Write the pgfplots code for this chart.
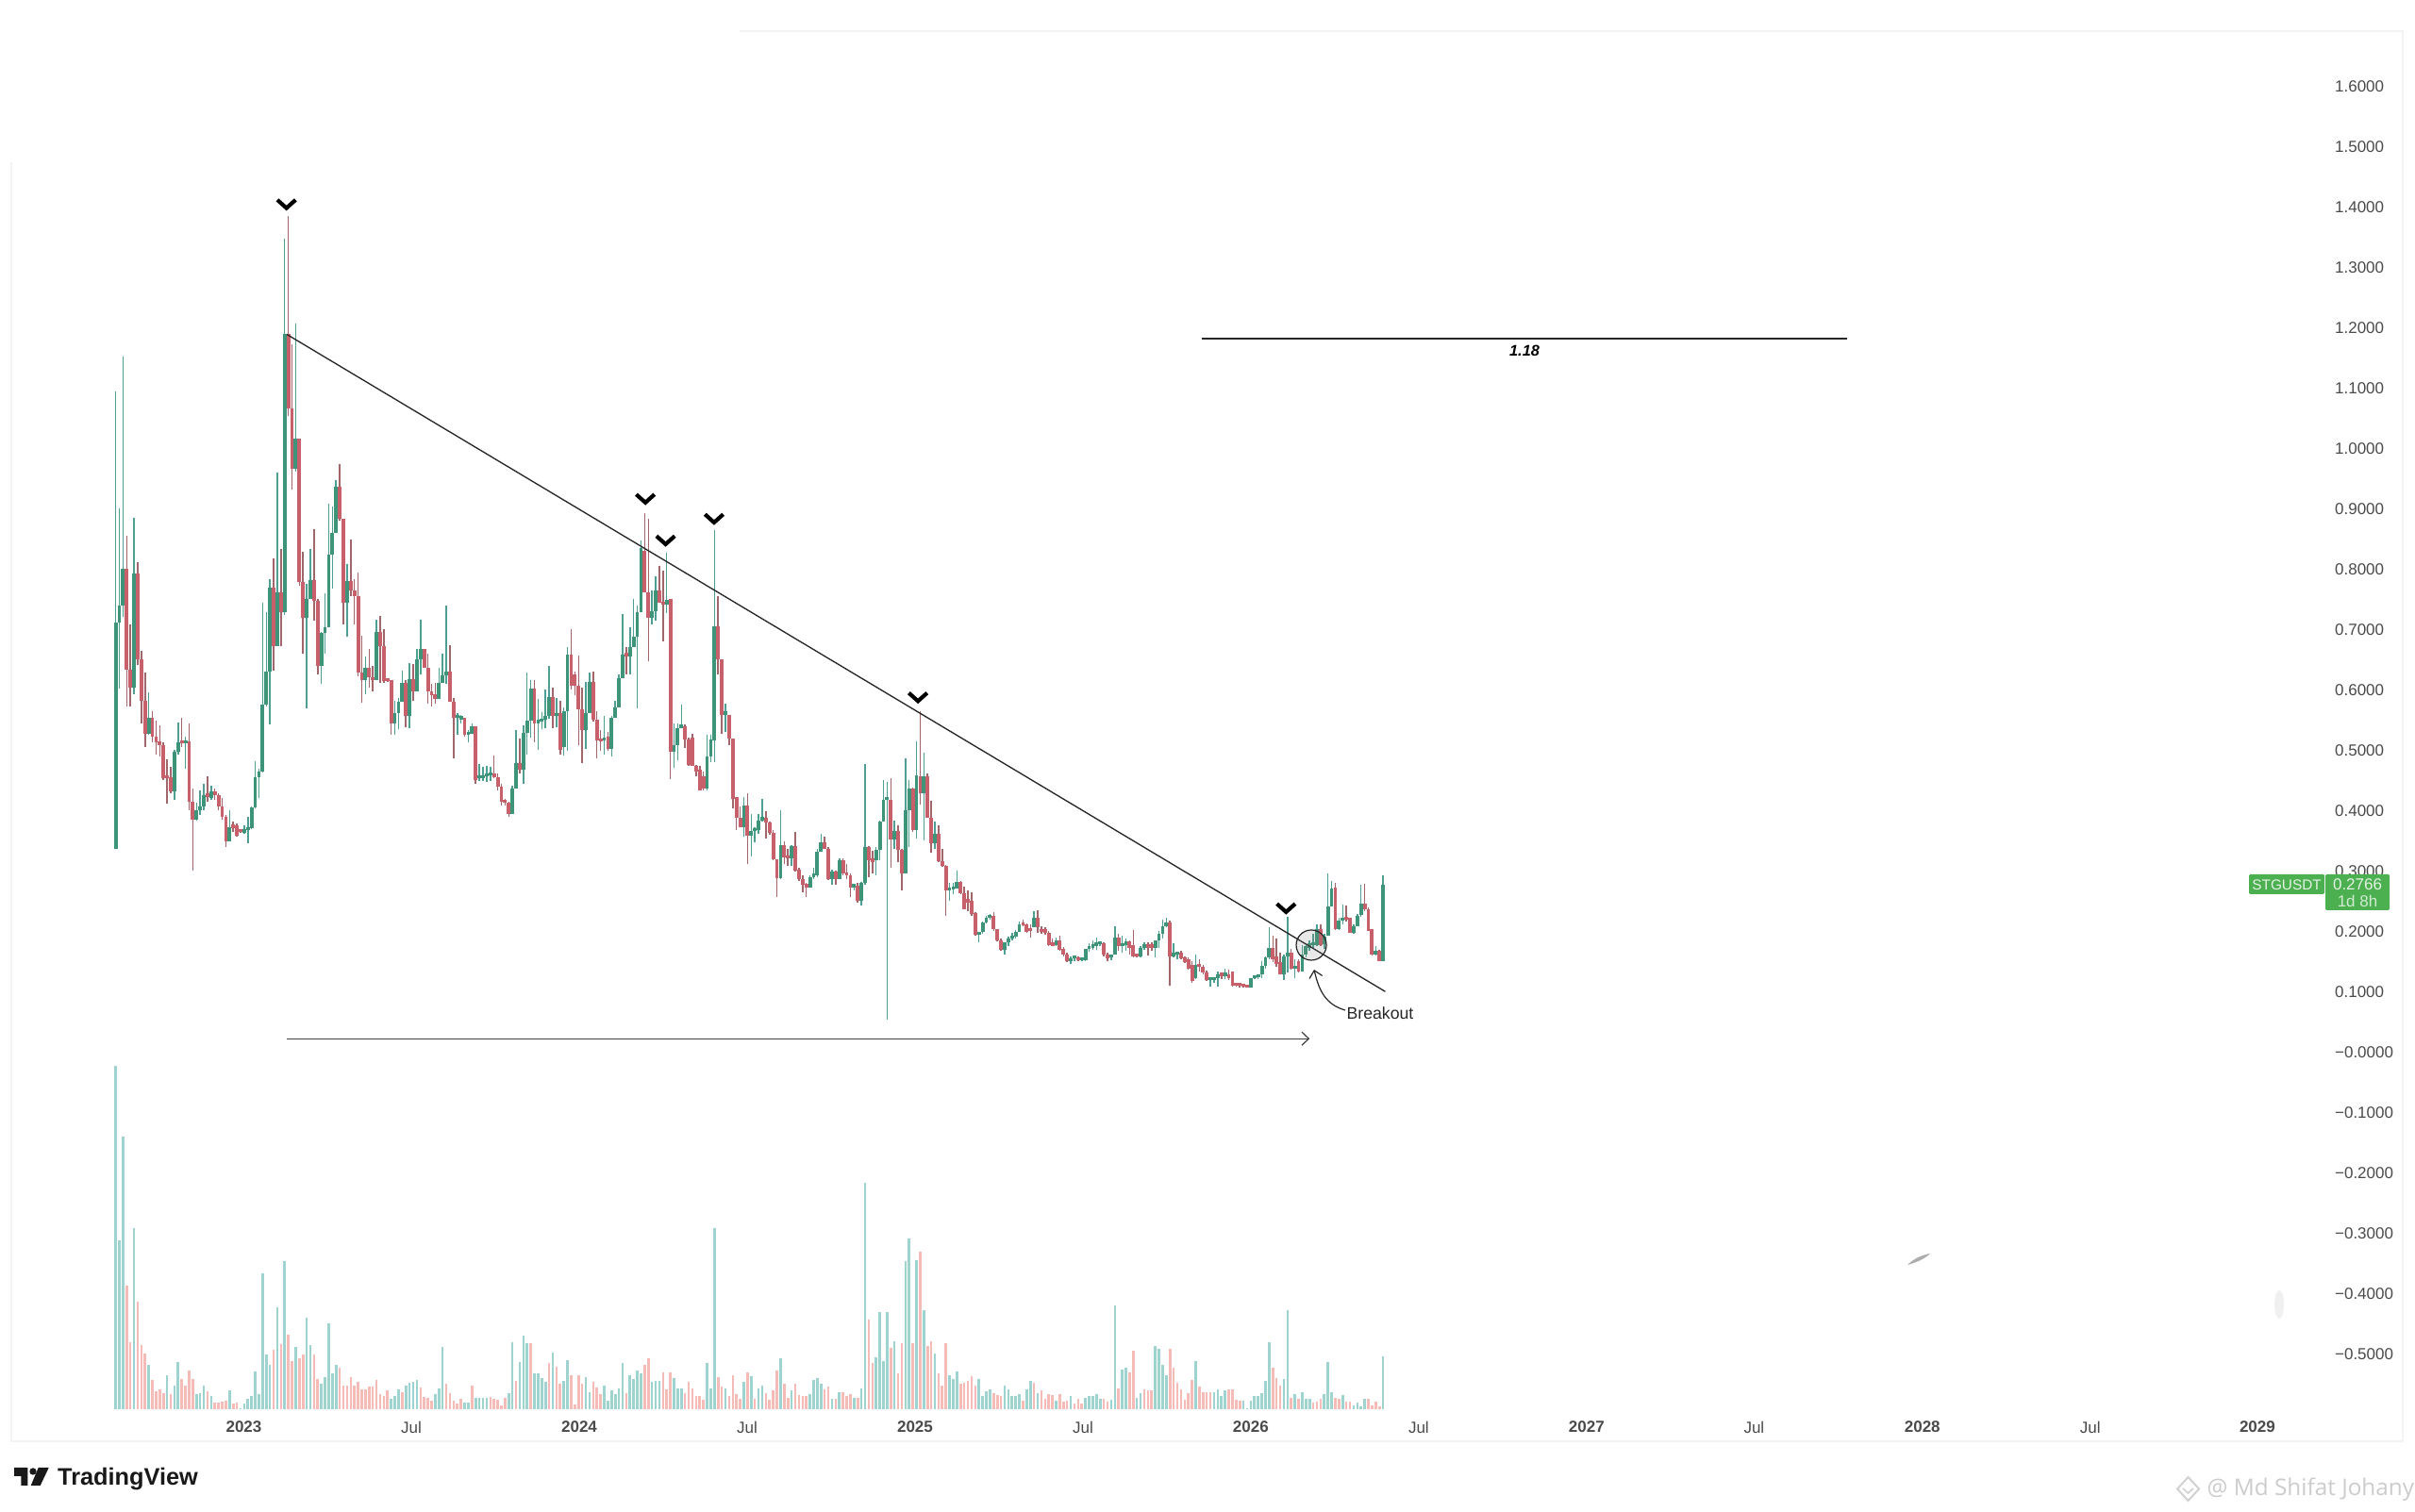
\documentclass[border=0pt]{standalone}
\usepackage{fontspec}
\setmainfont{Liberation Sans}
\newfontfamily\wmfont{Open Sans}
\usepackage{pgfplots}
\usepackage{pgfplotstable}
\pgfplotsset{compat=1.18}
\usetikzlibrary{arrows.meta}
\definecolor{upbody}{HTML}{3D9478}
\definecolor{upwick}{HTML}{4F9E93}
\definecolor{dnbody}{HTML}{C8606B}
\definecolor{dnwick}{HTML}{A0666A}
\definecolor{upvol}{HTML}{9FD3CF}
\definecolor{dnvol}{HTML}{F4BBB7}
\definecolor{lab}{HTML}{4A4A4A}
\definecolor{panel}{HTML}{F3F3F3}
\definecolor{tvgreen}{HTML}{4CAF50}
\pgfdeclareplotmark{chev}{%
  \pgfsetlinewidth{1.25pt}\pgfsetmiterjoin
  \pgfpathmoveto{\pgfpoint{-2.9pt}{1.5pt}}
  \pgfpathlineto{\pgfpoint{0pt}{-1.1pt}}
  \pgfpathlineto{\pgfpoint{2.9pt}{1.5pt}}
  \pgfusepathqstroke}
\pgfplotstableread{
o h l c v
.336 1.094 .336 .711 100
.711 .899 .601 .739 49.2
.739 1.152 .72 .800 79.4
.800 .855 .572 .633 -36
.633 .707 .572 .603 -19.6
.603 .884 .592 .791 52.7
.791 .811 .640 .649 -31.3
.649 .663 .544 .580 -18.7
.580 .627 .504 .526 -16.2
.526 .595 .524 .553 12.8
.553 .564 .512 .521 -8.6
.521 .548 .492 .512 -5.2
.512 .540 .488 .508 -5.7
.508 .512 .450 .452 -4.6
.454 .484 .410 .452 9.8
.454 .472 .428 .430 -4.3
.430 .500 .416 .497 7
.497 .545 .492 .512 13.7
.512 .552 .504 .510 -8.9
.510 .521 .468 .513 -6.8
.513 .544 .400 .414 -11.2
.414 .436 .300 .384 -8.9
.384 .412 .382 .400 4.3
.400 .432 .392 .405 4.8
.405 .444 .400 .424 7
.424 .456 .414 .422 -5.2
.420 .440 .416 .430 3.8
.430 .436 .416 .424 -2
.424 .428 .400 .406 -1.8
.406 .420 .384 .388 -2.2
.388 .392 .338 .348 -2.5
.348 .400 .348 .372 5.5
.376 .380 .364 .370 -1.6
.374 .378 .356 .358 -1.8
.366 .368 .362 .364 .2
.362 .374 .360 .368 1.6
.366 .388 .344 .368 2.9
.370 .406 .368 .404 3.8
.404 .481 .402 .454 11
.454 .468 .420 .464 4.3
.464 .743 .462 .574 39.6
.574 .727 .572 .629 15.8
.629 .783 .542 .769 12.8
.769 .817 .631 .671 -17.4
.671 .959 .671 .761 29.8
.761 .832 .671 .727 -19
.727 1.346 .723 1.188 43
1.188 1.384 1.053 1.066 -21.7
1.066 1.172 .931 .965 -13.9
.965 1.206 .960 1.016 18
1.016 1.016 .771 .777 -14.8
.777 .827 .659 .718 -15.8
.718 .775 .568 .750 26.7
.750 .833 .749 .781 18.7
.781 .865 .713 .747 -16
.747 .749 .625 .638 -8.9
.638 .695 .609 .694 7.3
.694 .759 .659 .702 9.3
.702 .907 .702 .823 25
.823 .903 .767 .859 10.4
.859 .947 .859 .935 13
.935 .973 .880 .883 -12
.883 .883 .707 .743 -6.9
.743 .807 .687 .779 -6.9
.779 .848 .755 .763 -9.3
.763 .783 .707 .755 -6.9
.755 .793 .622 .627 -8
.627 .689 .577 .615 -5.9
.615 .655 .591 .635 -5.9
.635 .667 .603 .620 -6.6
.620 .639 .596 .615 -6.6
.615 .715 .615 .695 -8.4
.695 .721 .611 .671 -4.3
.671 .699 .611 .614 -3.8
.615 .617 .612 .613 -5.5
.615 .615 .524 .544 2.9
.544 .580 .524 .561 3.8
.561 .585 .534 .579 5.9
.579 .631 .579 .611 -4.9
.611 .615 .537 .556 7
.556 .643 .536 .617 7.7
.617 .641 .580 .596 8
.596 .667 .596 .649 8.6
.649 .715 .624 .667 -6.4
.667 .667 .635 .635 -3.6
.635 .659 .576 .596 -3.4
.596 .609 .572 .590 -2.5
.591 .611 .576 .584 4.3
.584 .635 .584 .611 6.1
.611 .659 .611 .623 18
.623 .739 .609 .630 -7.5
.630 .673 .579 .579 -4.8
.579 .585 .486 .552 -2.5
.552 .561 .524 .554 -1.6
.550 .557 .544 .552 -3.1
.552 .552 .521 .524 2
.524 .532 .512 .526 2
.526 .544 .526 .539 -7
.539 .539 .444 .450 3.4
.452 .476 .448 .454 3.4
.453 .472 .448 .455 3.4
.455 .473 .446 .457 3.2
.457 .472 .448 .461 -3.7
.461 .490 .452 .454 -2.9
.454 .460 .432 .438 -2.7
.438 .444 .408 .414 -1.1
.414 .418 .408 .412 -3.4
.412 .414 .388 .394 4.8
.394 .440 .394 .436 19.6
.436 .532 .436 .478 -8.2
.478 .519 .460 .466 13.7
.466 .540 .444 .528 21.4
.528 .627 .492 .548 19.2
.548 .615 .520 .601 -19.2
.601 .615 .512 .544 10.3
.544 .584 .500 .546 10.3
.546 .562 .534 .549 9.2
.549 .600 .536 .555 8
.555 .639 .551 .587 -13.5
.587 .603 .536 .555 16.5
.555 .585 .537 .560 -12.3
.560 .580 .492 .500 -7.3
.504 .570 .490 .564 8.2
.563 .670 .498 .658 14.4
.658 .699 .600 .606 -9.8
.624 .630 .590 .606 -1.3
.606 .656 .507 .566 -10
.566 .603 .478 .532 -7.3
.532 .612 .501 .560 9.3
.560 .627 .560 .612 4.9
.612 .630 .547 .550 -8
.550 .563 .486 .515 -6.4
.516 .532 .498 .514 -4.3
.515 .556 .492 .518 7
.521 .529 .498 .501 2.5
.501 .556 .489 .553 5.5
.553 .580 .553 .570 4.3
.570 .625 .570 .618 6.1
.618 .724 .618 .658 13.5
.658 .670 .624 .655 -4.6
.655 .703 .624 .670 9.8
.670 .750 .670 .687 8.9
.687 .739 .569 .727 11.2
.727 .846 .727 .834 10.3
.830 .892 .760 .760 -13
.760 .883 .646 .718 -14.8
.718 .763 .707 .730 8
.730 .787 .713 .763 8.2
.763 .804 .744 .744 8.2
.744 .797 .680 .740 -10.7
.740 .826 .726 .748 -5.7
.750 .750 .451 .496 -10.7
.496 .543 .470 .507 9.2
.507 .543 .483 .536 6.1
.536 .575 .535 .538 6.1
.538 .541 .502 .517 -4.6
.517 .520 .473 .475 -8
.520 .526 .473 .473 -6.1
.473 .475 .455 .464 -3.8
.467 .473 .433 .433 -3.8
.456 .464 .433 .436 -2.7
.436 .524 .433 .489 13.5
.489 .524 .479 .516 6.1
.515 .864 .479 .705 52.8
.705 .755 .624 .650 -9.3
.650 .650 .526 .558 -6.6
.558 .576 .529 .560 6.1
.558 .558 .507 .518 -3.8
.518 .518 .403 .418 -9.8
.421 .422 .367 .387 -4.3
.387 .406 .372 .372 -2.9
.372 .421 .356 .407 8
.407 .428 .310 .358 -10.7
.358 .393 .323 .365 9.5
.365 .372 .347 .369 -3.1
.366 .393 .361 .383 6.1
.383 .418 .381 .387 7
.387 .398 .353 .379 -4.8
.379 .381 .359 .362 -2.7
.362 .366 .316 .318 -5.5
.318 .318 .255 .287 -11.2
.287 .399 .286 .342 14.7
.342 .348 .310 .321 -7.5
.321 .335 .307 .319 -3.4
.320 .341 .307 .340 5.5
.340 .364 .298 .299 -7.3
.301 .304 .283 .286 -4
.286 .291 .264 .276 -3.8
.276 .279 .255 .272 -3.8
.272 .291 .272 .289 4.3
.289 .304 .285 .292 8.4
.292 .335 .289 .330 9.2
.330 .361 .330 .346 7.5
.346 .356 .335 .336 -5.7
.336 .338 .284 .286 -6.6
.286 .301 .276 .298 2.9
.298 .299 .276 .286 -3.1
.286 .319 .286 .316 4.9
.316 .319 .292 .295 -4.9
.295 .310 .286 .292 -3.8
.292 .295 .255 .272 -4.3
.272 .278 .267 .274 3.4
.274 .279 .246 .249 -3.4
.249 .281 .241 .279 6.1
.279 .476 .276 .338 65.9
.338 .340 .289 .316 -26
.316 .332 .295 .314 -13.5
.316 .338 .292 .334 15
.334 .383 .316 .381 28.3
.381 .449 .381 .416 13.9
.416 .446 .053 .418 28.4
.417 .453 .304 .351 -17.9
.351 .383 .335 .365 19.9
.365 .375 .313 .334 -10.3
.334 .335 .266 .295 -19.2
.295 .486 .295 .399 43
.399 .449 .338 .435 49.8
.435 .437 .363 .367 -19.2
.367 .513 .352 .458 43.4
.456 .563 .409 .427 -46
.427 .495 .350 .456 28.8
.456 .461 .387 .387 -18.5
.387 .415 .329 .344 -19.9
.344 .381 .335 .361 16.2
.361 .375 .313 .315 -10.4
.315 .335 .305 .307 -7
.307 .309 .225 .266 -19.2
.266 .279 .249 .268 10
.268 .279 .261 .270 8.9
.270 .299 .270 .281 11
.281 .282 .261 .262 -7.3
.262 .273 .235 .236 -7.7
.250 .266 .233 .247 -8.2
.249 .264 .224 .227 -9.5
.229 .230 .192 .193 -7
.193 .198 .180 .198 8.9
.198 .215 .194 .213 3.8
.213 .224 .212 .221 5.2
.221 .227 .218 .223 5.7
.224 .230 .200 .202 -4.8
.202 .202 .182 .184 -4
.184 .187 .166 .168 -3.8
.168 .180 .160 .180 7
.180 .190 .175 .187 5.9
.187 .196 .184 .192 3.8
.190 .201 .187 .198 3.8
.198 .215 .198 .210 4.3
.211 .218 .207 .209 -2.5
.210 .212 .196 .198 5.9
.204 .210 .188 .199 8.2
.206 .233 .205 .222 -7.7
.222 .234 .196 .205 4.6
.200 .208 .195 .198 -5.5
.199 .205 .193 .197 -3.1
.197 .200 .175 .176 -4.3
.179 .187 .174 .175 -4
.176 .188 .174 .184 2.5
.184 .191 .166 .168 -4.3
.170 .173 .158 .161 -2.2
.161 .163 .148 .149 -2.5
.149 .158 .144 .154 3.8
.154 .158 .150 .156 -1.6
.155 .158 .149 .151 -2.9
.151 .155 .149 .153 -1.6
.151 .170 .150 .169 3.4
.169 .179 .165 .172 3.8
.172 .184 .168 .175 3.8
.175 .188 .168 .177 4.3
.177 .182 .174 .179 2.9
.179 .180 .158 .161 -2.9
.161 .163 .150 .154 -2.2
.155 .160 .151 .158 2.7
.161 .208 .161 .188 30.1
.188 .195 .166 .174 -6.1
.174 .192 .163 .176 11.6
.176 .187 .166 .182 12.1
.182 .184 .161 .171 -10.7
.176 .201 .156 .158 -16.9
.159 .160 .156 .157 3.4
.158 .174 .156 .171 4.8
.171 .180 .168 .177 -5.9
.177 .180 .159 .171 -5.5
.176 .180 .167 .172 -5.5
.172 .184 .156 .184 18.5
.184 .200 .171 .195 17.6
.195 .218 .187 .208 13
.208 .221 .205 .210 10
.213 .216 .109 .158 -17.6
.158 .179 .156 .160 -12.1
.160 .165 .153 .162 -7.7
.163 .166 .153 .154 -5.7
.155 .158 .146 .148 -2.7
.153 .156 .135 .137 -4.6
.143 .150 .114 .117 -8.6
.121 .161 .119 .143 13.9
.143 .153 .132 .140 -6.6
.140 .143 .127 .130 -4.9
.130 .133 .117 .118 -4.9
.118 .121 .107 .120 -4.9
.118 .123 .114 .122 4.9
.122 .132 .107 .127 5.9
.127 .129 .119 .125 3.8
.125 .137 .119 .127 5.5
.127 .135 .118 .122 -5.7
.132 .132 .107 .108 -5.7
.110 .112 .107 .109 -2.7
.109 .110 .106 .108 -2.5
.108 .109 .106 .107 2.5
.107 .108 .105 .106 .4
.106 .122 .105 .121 2.5
.121 .126 .119 .123 3.8
.123 .128 .120 .125 3.8
.127 .150 .122 .142 4.8
.142 .158 .137 .155 8.2
.155 .205 .153 .171 19.4
.171 .192 .148 .153 -12.1
.158 .187 .140 .145 -9.2
.148 .163 .127 .127 -7
.127 .161 .118 .158 8.9
.158 .223 .130 .161 28.8
.163 .170 .135 .137 -3.4
.137 .153 .122 .139 4.3
.150 .153 .130 .132 -3.1
.132 .176 .132 .161 4.9
.161 .176 .156 .174 2.9
.172 .184 .166 .179 2.9
.176 .194 .171 .178 -1.8
.176 .210 .174 .202 -2.2
.202 .210 .174 .176 -3.1
.177 .195 .170 .190 4.3
.192 .295 .192 .240 13.7
.240 .283 .240 .270 4.9
.272 .279 .201 .202 -3.4
.202 .222 .201 .217 -3.1
.217 .243 .210 .220 4.1
.220 .241 .215 .218 -2.2
.221 .222 .196 .197 -2.2
.197 .210 .195 .208 1.1
.208 .228 .208 .225 2
.226 .276 .223 .244 .9
.244 .278 .233 .236 3.1
.236 .239 .200 .200 -3.1
.203 .203 .159 .161 -1.1
.161 .174 .159 .163 -2.2
.166 .168 .150 .150 -.9
.150 .291 .150 .276 15.3
}\stg
\begin{document}
\begin{tikzpicture}
\useasboundingbox[fill=white] (-3.6pt,-32.1pt) rectangle (764.4pt,448.8pt);
% candles
\begin{axis}[at={(0pt,0pt)},anchor=south west,scale only axis,width=737.4pt,height=439.8pt,
  xmin=-28.4,xmax=602.8,ymin=-0.5961,ymax=1.6952,clip=false,
  axis line style={draw=none},tick style={draw=none},major tick length=0pt,
  ytick pos=right,xtick pos=bottom,
  ytick={-0.5,-0.4,-0.3,-0.2,-0.1,0,0.1,0.2,0.3,0.4,0.5,0.6,0.7,0.8,0.9,1.0,1.1,1.2,1.3,1.4,1.5,1.6},
  yticklabels={−0.5000,−0.4000,−0.3000,−0.2000,−0.1000,−0.0000,0.1000,0.2000,0.3000,0.4000,0.5000,0.6000,0.7000,0.8000,0.9000,1.0000,1.1000,1.2000,1.3000,1.4000,1.5000,1.6000},
  xtick={34.9,80.5,126.2,171.9,217.6,263.3,309,354.7,400.4,446,491.8,537.5,583},
  xticklabels={\textbf{2023},Jul,\textbf{2024},Jul,\textbf{2025},Jul,\textbf{2026},Jul,\textbf{2027},Jul,\textbf{2028},Jul,\textbf{2029}},
  ticklabel style={font=\fontsize{5.1}{6}\selectfont,text=lab},
  yticklabel style={anchor=west,xshift=-2pt,yshift=-.3pt},
  xticklabel style={yshift=.2pt},
  unbounded coords=discard,
  wick/.style 2 args={draw=none,no markers,forget plot,
    error bars/y dir=plus,error bars/y explicit,error bars/error mark=none,error bars/error bar style={line width=#2,color=#1}},
  ]
% wicks
\addplot[wick={upwick}{0.45pt},x filter/.expression={\thisrow{c}>=\thisrow{o} ? x : nan}]
  table[x expr=\coordindex,y=l,y error plus expr=\thisrow{h}-\thisrow{l},y error minus expr=0] {\stg};
\addplot[wick={dnwick}{0.45pt},x filter/.expression={\thisrow{c}<\thisrow{o} ? x : nan}]
  table[x expr=\coordindex,y=l,y error plus expr=\thisrow{h}-\thisrow{l},y error minus expr=0] {\stg};
% bodies
\addplot[wick={upbody}{1.15pt},x filter/.expression={\thisrow{c}>=\thisrow{o} ? x : nan}]
  table[x expr=\coordindex,y=o,y error plus expr={max(\thisrow{c}-\thisrow{o},0.005)},y error minus expr=0] {\stg};
\addplot[wick={dnbody}{1.15pt},x filter/.expression={\thisrow{c}<\thisrow{o} ? x : nan}]
  table[x expr=\coordindex,y=c,y error plus expr={max(\thisrow{o}-\thisrow{c},0.005)},y error minus expr=0] {\stg};
% trend line, target, time arrow
\addplot[black!85,line width=0.4pt,no markers] coordinates {(46.6,1.188) (345.6,0.099)};
\addplot[black!85,line width=0.36pt,no markers] coordinates {(295.6,1.181) (471.3,1.181)};
\addplot[black!75,line width=0.36pt,no markers,-{Straight Barb[length=2.2pt,width=4.2pt]}] coordinates {(46.6,0.021) (325,0.021)};
% swing highs
\addplot[only marks,mark=chev,black] coordinates {(46.5,1.403) (144.2,0.915) (149.7,0.846) (162.9,0.882) (218.4,0.586) (318.6,0.2366)};
\end{axis}
% volume
\begin{axis}[at={(0pt,0pt)},anchor=south west,scale only axis,width=737.4pt,height=439.8pt,
  xmin=-28.4,xmax=602.8,ymin=-0.55,ymax=402.2,hide axis,unbounded coords=discard,clip=false]
\addplot[ycomb,no markers,color=upvol,line width=0.78pt,x filter/.expression={\thisrow{v}>0 ? x : nan}]
  table[x expr=\coordindex,y expr=abs(\thisrow{v})] {\stg};
\addplot[ycomb,no markers,color=dnvol,line width=0.78pt,x filter/.expression={\thisrow{v}<0 ? x : nan}]
  table[x expr=\coordindex,y expr=abs(\thisrow{v})] {\stg};
\end{axis}
% annotations, in pixels of the reference
\begin{scope}[x=.3pt,y=-.3pt,shift={(-12,-1496)}]
\draw[panel,line width=.4pt] (12,172)--(12,1528)--(2547,1528)--(2547,33)--(784,33);
\fill[gray,opacity=.18] (1390,1002) circle[radius=16];
\draw[black!85,line width=.36pt] (1390,1002) circle[radius=16];
\draw[black!85,line width=.36pt,-{Straight Barb[length=2.2pt,width=4.2pt]}] (1426,1071) .. controls (1405,1065) and (1398,1050) .. (1393,1028);
\node[font=\fontsize{5.3}{6}\selectfont,text=black!85] at (1463,1074) {Breakout};
\node[font=\fontsize{4.9}{6}\selectfont\bfseries\itshape,text=black] at (1616,372) {1.18};
% last price labels
\fill[tvgreen,rounded corners=.4pt] (2384,927) rectangle (2464,948);
\fill[tvgreen,rounded corners=.4pt] (2465,927) rectangle (2533,965);
\node[font=\fontsize{4.6}{5}\selectfont,text=white!85!tvgreen] at (2424,938) {STGUSDT};
\node[font=\fontsize{5.1}{6}\selectfont,text=white!85!tvgreen] at (2499,938) {0.2766};
\node[font=\fontsize{5.1}{6}\selectfont,text=white!75!tvgreen] at (2499,955) {1d 8h};
% logo and wordmark
\fill[black!90] (15,1556)--(29.3,1556)--(29.3,1575)--(22.3,1575)--(22.3,1565)--(15,1565)--cycle;
\fill[black!90] (35,1560) circle[radius=3.7];
\fill[black!90] (40.7,1556)--(51.7,1556)--(42.7,1575)--(32.7,1575)--cycle;
\node[anchor=west,inner sep=0pt,font=\fontsize{7.6}{9}\selectfont\bfseries,text=black!90] at (60.5,1568) {TradingView};
% watermark and smudges
\node[anchor=west,inner sep=0pt,font=\fontsize{7.3}{9}\wmfont,text=black!20] at (2339,1579) {@ Md Shifat Johany};
\draw[black!18,line width=.6pt] (2319.5,1566)--(2331,1578.5)--(2319.5,1591)--(2308,1578.5)--cycle;
\draw[black!18,line width=.5pt] (2314,1578)--(2319.5,1583)--(2325,1578);
\fill[black!32] (2022,1341) .. controls (2030,1333) and (2040,1330) .. (2046,1329) .. controls (2040,1335) and (2030,1339) .. cycle;
\fill[black!6] (2416,1383) ellipse[x radius=5,y radius=15];
\end{scope}
\end{tikzpicture}
\end{document}
